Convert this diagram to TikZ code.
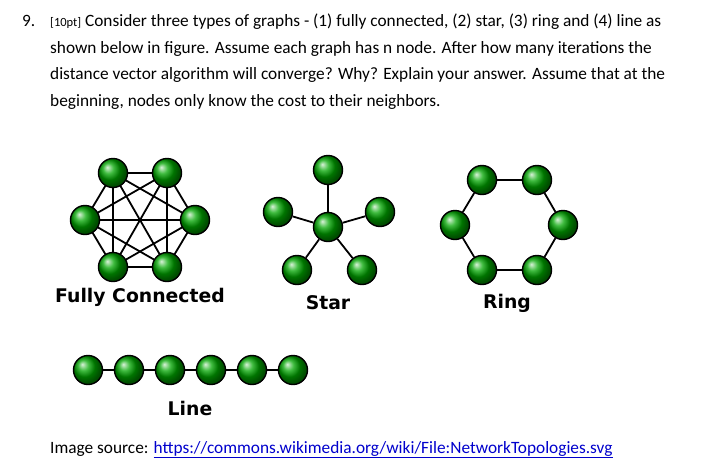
\documentclass[tikz,border=0pt]{standalone}
\usepackage{fontspec}
\setmainfont{Carlito}
\newfontfamily\lab{DejaVu Sans}
\begin{document}
\begin{tikzpicture}[x=1pt,y=-1pt,
  nd/.style={circle,draw=black,line width=1.4pt,inner sep=0pt,minimum size=29pt,ball color=green!65!black},
  ed/.style={line width=1.8pt},
  txt/.style={anchor=base west,inner sep=0pt,font=\fontsize{17.3}{20}\selectfont},
  lb/.style={font=\lab\bfseries\fontsize{18.8}{22}\selectfont}]
\useasboundingbox (0,0) rectangle (718,475);
\node[txt] (n9) at (22,26) {9.};
\node[txt] (l1) at (50,26) {{\fontsize{12.5}{14}\selectfont[10pt]} Consider three types of graphs - (1) fully connected, (2) star, (3) ring and (4) line as};
\node[txt] (l2) at (50,53) {shown below in figure. Assume each graph has n node. After how many iterations the};
\node[txt] (l3) at (50,79) {distance vector algorithm will converge? Why? Explain your answer. Assume that at the};
\node[txt] (l4) at (50,106) {beginning, nodes only know the cost to their neighbors.};
% fully connected
\coordinate (f1) at (113,173); \coordinate (f2) at (167,173); \coordinate (f3) at (195,220);
\coordinate (f4) at (167,267); \coordinate (f5) at (113,267); \coordinate (f6) at (85,220);
\foreach \a/\b in {1/2,1/3,1/4,1/5,1/6,2/3,2/4,2/5,2/6,3/4,3/5,3/6,4/5,4/6,5/6}
  \draw[ed] (f\a) -- (f\b);
\foreach \i in {1,...,6} \node[nd] (F\i) at (f\i) {};
\node[lb] (fl) at (140,297) {Fully Connected};
% star
\node[nd] (sc) at (328,227) {};
\node[nd] (s1) at (328,170) {};
\node[nd] (s2) at (278,212) {};
\node[nd] (s3) at (380,212) {};
\node[nd] (s4) at (297,270) {};
\node[nd] (s5) at (362,270) {};
\foreach \i in {1,...,5} \draw[ed] (sc) -- (s\i);
\node[lb] (sl) at (328,303) {Star};
% ring
\node[nd] (r1) at (482,180) {};
\node[nd] (r2) at (537,180) {};
\node[nd] (r3) at (563,225) {};
\node[nd] (r4) at (537,270) {};
\node[nd] (r5) at (482,270) {};
\node[nd] (r6) at (455,225) {};
\draw[ed] (r1)--(r2) (r2)--(r3) (r3)--(r4) (r4)--(r5) (r5)--(r6) (r6)--(r1);
\node[lb] (rl) at (507,303) {Ring};
% line
\foreach \i/\x in {1/88,2/129,3/170,4/211,5/252,6/293} \node[nd] (p\i) at (\x,370) {};
\draw[ed] (p1)--(p2) (p2)--(p3) (p3)--(p4) (p4)--(p5) (p5)--(p6);
\node[lb] (ll) at (190,408) {Line};
\node[txt] (src) at (50,453) {Image source: \textcolor{blue!80!black}{\underline{https://commons.wikimedia.org/wiki/File:NetworkTopologies.svg}}};
\end{tikzpicture}
\end{document}
